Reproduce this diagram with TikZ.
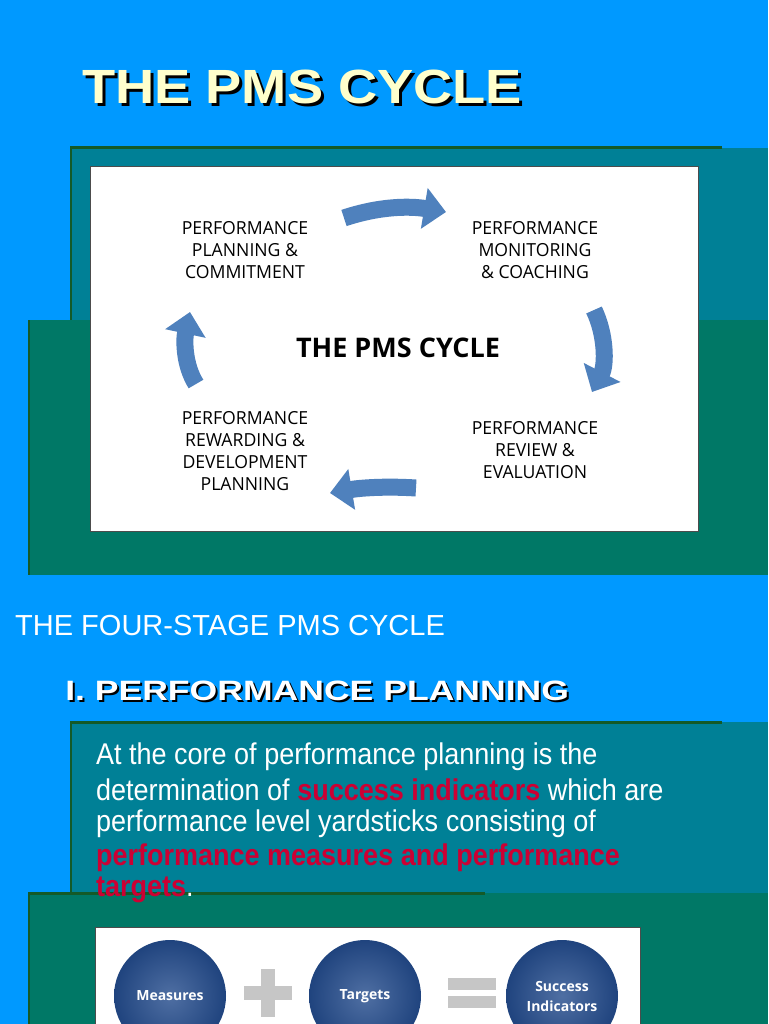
\documentclass[tikz,border=0pt]{standalone}
\usepackage{fontspec}
\setmainfont{Liberation Sans}
\newfontfamily\osans{Open Sans}
\usetikzlibrary{arrows.meta}
\definecolor{bgblue}{RGB}{0,153,255}
\definecolor{pteal}{RGB}{0,128,150}
\definecolor{pgreen}{RGB}{0,120,102}
\definecolor{edgegreen}{RGB}{20,90,40}
\definecolor{cream}{RGB}{255,255,204}
\definecolor{redtxt}{RGB}{204,0,51}
\definecolor{arrowblue}{RGB}{79,129,189}
\definecolor{circblue}{RGB}{35,75,140}
\tikzset{
  stage/.style={font=\osans\fontsize{18}{22}\selectfont, align=center, text=black, xscale=0.98, transform shape},
  cyc/.style={line width=17pt, arrowblue, -{Triangle[width=40pt,length=22pt]}},
  para/.style={anchor=west, text=white, font=\fontsize{30}{34}\selectfont, xscale=0.9, transform shape, inner sep=0},
  circ/.style={circle, minimum size=112pt, inner sep=0, inner color=circblue!80!white, outer color=circblue!90!black, text=white, font=\osans\bfseries\fontsize{14}{20}\selectfont, align=center},
}
\begin{document}
\begin{tikzpicture}[x=1pt,y=-1pt]
\useasboundingbox (0,0) rectangle (768,1024);
\begin{scope}
\clip (0,0) rectangle (768,1024);
\fill[bgblue] (0,0) rectangle (768,1024);
% panels upper
\fill[pteal] (70,148) rectangle (768,575);
\fill[pgreen] (28,320) rectangle (768,575);
\draw[edgegreen, line width=3pt] (70,148) -- (722,148);
\draw[edgegreen, line width=2pt] (71,148) -- (71,320);
\draw[edgegreen, line width=2pt] (29,320) -- (29,575);
% panels lower
\fill[pteal] (70,722) rectangle (768,1024);
\fill[pgreen] (28,893) rectangle (768,1024);
\draw[edgegreen, line width=3pt] (70,722) -- (722,722);
\draw[edgegreen, line width=2pt] (71,722) -- (71,893);
\draw[edgegreen, line width=3pt] (28,893) -- (485,893);
\draw[edgegreen, line width=2pt] (29,893) -- (29,1024);
% title
\node[anchor=west, text=black, font=\bfseries\fontsize{48}{52}\selectfont, xscale=1.13, transform shape, inner sep=0] (titles) at (85,90) {THE PMS CYCLE};
\node[anchor=west, text=cream, font=\bfseries\fontsize{48}{52}\selectfont, xscale=1.13, transform shape, inner sep=0] (title) at (82,87) {THE PMS CYCLE};
% cycle image
\node[draw=black!70, fill=white, minimum width=608pt, minimum height=365pt, anchor=north west, inner sep=0] (img) at (90,166) {};
\node[stage] (pp) at (245,250) {PERFORMANCE\\PLANNING \&\\COMMITMENT};
\node[stage] (pm) at (535,250) {PERFORMANCE\\MONITORING\\\& COACHING};
\node[stage] (pr) at (535,450) {PERFORMANCE\\REVIEW \&\\EVALUATION};
\node[stage] (pd) at (245,451) {PERFORMANCE\\REWARDING \&\\DEVELOPMENT\\PLANNING};
\node[font=\osans\bfseries\fontsize{27}{30}\selectfont] (ct) at (398,348) {THE PMS CYCLE};
\coordinate (a1s) at (344,218); \coordinate (a1e) at (446,212);
\coordinate (a2s) at (594,310); \coordinate (a2e) at (592,392);
\coordinate (a3s) at (416,488); \coordinate (a3e) at (330,493);
\coordinate (a4s) at (196,384); \coordinate (a4e) at (190,312);
\draw[cyc] (a1s) .. controls (380,206) and (410,206) .. (a1e);
\draw[cyc] (a2s) .. controls (606,335) and (606,365) .. (a2e);
\draw[cyc] (a3s) .. controls (385,486) and (360,488) .. (a3e);
\draw[cyc] (a4s) .. controls (184,365) and (184,340) .. (a4e);
% headings
\node[anchor=west, text=white, font=\fontsize{29}{32}\selectfont, inner sep=0] (four) at (15,626) {THE FOUR-STAGE PMS CYCLE};
\node[anchor=west, text=black, font=\bfseries\fontsize{28}{32}\selectfont, xscale=1.27, transform shape, inner sep=0] (h1s) at (67,693) {I. PERFORMANCE PLANNING};
\node[anchor=west, text=white, font=\bfseries\fontsize{28}{32}\selectfont, xscale=1.27, transform shape, inner sep=0] (h1) at (65,691) {I. PERFORMANCE PLANNING};
% paragraph
\node[para] (l1) at (96,757) {At the core of performance planning is the};
\node[para] (l2) at (96,790) {determination of \textcolor{redtxt}{\bfseries success indicators} which are};
\node[para] (l3) at (96,824) {performance level yardsticks consisting of};
\node[para] (l4) at (96,858) {\textcolor{redtxt}{\bfseries performance measures and performance}};
\node[para] (l5) at (96,890) {\textcolor{redtxt}{\bfseries targets}.};
% bottom image
\fill[white, draw=black!70] (95,927) rectangle (640,1030);
\node[circ] (m) at (170,996) {Measures};
\node[circ] (t) at (365,996) {Targets};
\node[circ] (s) at (562,996) {Success\\Indicators};
\node[fill=gray!45, minimum width=48pt, minimum height=14pt, inner sep=0] (plh) at (268,993) {};
\node[fill=gray!45, minimum width=14pt, minimum height=48pt, inner sep=0] (plv) at (268,993) {};
\node[fill=gray!45, minimum width=48pt, minimum height=12pt, inner sep=0] (eq1) at (472,984) {};
\node[fill=gray!45, minimum width=48pt, minimum height=12pt, inner sep=0] (eq2) at (472,1002) {};
\end{scope}
\end{tikzpicture}
\end{document}
